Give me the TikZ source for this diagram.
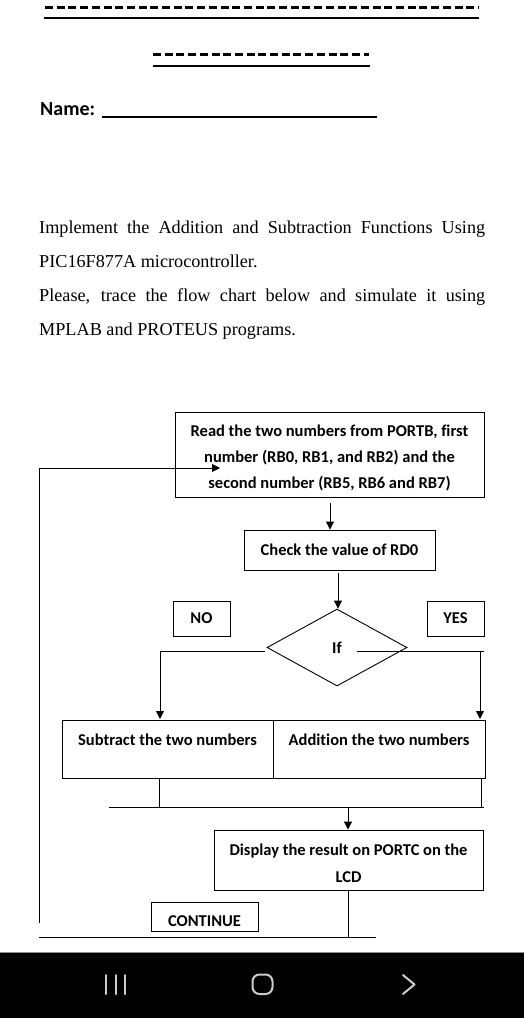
\documentclass[tikz,border=0pt]{standalone}
\usepackage{fontspec}
\setmainfont{Liberation Serif}
\newfontfamily\carl[Ligatures=NoCommon]{Carlito}
\usetikzlibrary{arrows.meta,shapes.geometric}
\begin{document}
\begin{tikzpicture}[x=1pt,y=-1pt,
  fbox/.style={draw,line width=0.9pt,inner sep=3pt,font=\carl\bfseries\fontsize{16.5}{26}\selectfont,align=center},
  flow/.style={line width=0.9pt},
  arr/.style={line width=0.9pt,-{Triangle[length=8pt,width=8pt]}},
  para/.style={anchor=base west,inner sep=0pt,font=\fontsize{18.2}{34}\selectfont},
  rule/.style={line width=2.3pt},
  dashrule/.style={line width=3pt,dash pattern=on 8pt off 3.7pt},
  navicon/.style={draw=black!20,line width=2pt,line cap=round}
]
\useasboundingbox[fill=white] (0,0) rectangle (524,1018);

% header rules
\draw[dashrule] (45,7) -- (478,7);
\draw[rule] (44,18) -- (479,18);
\draw[dashrule] (153,54) -- (369,54);
\draw[rule] (153,66) -- (370,66);

% name
\node[anchor=base west,inner sep=0pt,font=\carl\bfseries\fontsize{20}{24}\selectfont] (name) at (40,115) {Name:};
\draw[line width=1.8pt] (102,117) -- (377,117);

% paragraph
\node[para] (p1) at (39,233) {\makebox[446pt][s]{Implement the Addition and Subtraction Functions Using}};
\node[para] (p2) at (39,267) {PIC16F877A microcontroller.};
\node[para] (p3) at (39,301) {\makebox[446pt][s]{Please, trace the flow chart below and simulate it using}};
\node[para] (p4) at (39,335) {MPLAB and PROTEUS programs.};

% flowchart nodes
\node[fbox,minimum width=309pt,minimum height=85pt] (read) at (329.5,454.5)
  {\rule{0pt}{18.5pt}Read the two numbers from PORTB, first\\number (RB0, RB1, and RB2) and the\\second number (RB5, RB6 and RB7)};
\node[fbox,minimum width=191pt,minimum height=40pt] (check) at (339.5,550) {Check the value of RD0};
\node[draw,line width=0.9pt,diamond,minimum width=140pt,minimum height=77pt,inner sep=0pt,font=\carl\bfseries\fontsize{16.5}{18}\selectfont] (if) at (337,647.5) {If};
\node[fbox,minimum width=57pt,minimum height=35pt] (no) at (201.5,618.5) {NO};
\node[fbox,minimum width=57pt,minimum height=35pt] (yes) at (455.5,618.5) {YES};
\node[fbox,minimum width=211pt,minimum height=58pt,inner sep=4pt,text height=21pt,text depth=29pt] (sub) at (167.5,749) {Subtract the two numbers};
\node[fbox,minimum width=212pt,minimum height=58pt,inner sep=4pt,text height=21pt,text depth=29pt] (add) at (379,749) {Addition the two numbers};
\node[fbox,minimum width=269pt,minimum height=60pt,font=\carl\bfseries\fontsize{16.5}{27}\selectfont] (disp) at (348.5,860) {\rule{0pt}{18.5pt}Display the result on PORTC on the\\LCD};
\node[fbox,minimum width=107pt,minimum height=29pt,inner sep=0pt,text height=24pt,text depth=5pt] (cont) at (204.5,916.5) {CONTINUE};

% coordinates
\coordinate (r1) at (330,503);
\coordinate (c1) at (338,573);
\coordinate (nl) at (265,651);
\coordinate (nlc) at (160,651);
\coordinate (nle) at (160,719);
\coordinate (yl) at (357,651);
\coordinate (ylc) at (484,651);
\coordinate (yv) at (480,651);
\coordinate (yve) at (480,719);
\coordinate (m1) at (159,807);
\coordinate (m2) at (481,807);
\coordinate (ml) at (109,807);
\coordinate (mr) at (484,807);
\coordinate (md) at (348,807);
\coordinate (d1) at (348,937);
\coordinate (bl) at (39,937);
\coordinate (br) at (376,937);
\coordinate (lt) at (39,468);
\coordinate (lb) at (39,923);
\coordinate (la) at (220,468);

% connectors
\draw[arr] (r1) -- (r1 |- check.north);
\draw[arr] (c1) -- (c1 |- if.north);
\draw[flow] (nl) -- (nlc);
\draw[arr] (nlc) -- (nle);
\draw[flow] (yl) -- (ylc);
\draw[arr] (yv) -- (yve);
\draw[flow] (m1 |- sub.south) -- (m1);
\draw[flow] (m2 |- add.south) -- (m2);
\draw[flow] (ml) -- (mr);
\draw[arr] (md) -- (md |- disp.north);
\draw[flow] (d1 |- disp.south) -- (d1);
\draw[flow] (bl) -- (br);
\draw[flow] (lb) -- (lt);
\draw[arr] (lt) -- (la);

% navigation bar
\fill[black] (0,952) rectangle (524,1018);
\draw[black!45,line width=1pt] (0,952.5) -- (524,952.5);
\draw[navicon] (106,975) -- (106,994);
\draw[navicon] (116,975) -- (116,994);
\draw[navicon] (125,975) -- (125,994);
\draw[navicon,rounded corners=7pt] (252.5,974.5) rectangle (272.5,994);
\draw[navicon,line join=round] (403,975) -- (414.5,984.5) -- (403,994);
\end{tikzpicture}
\end{document}
